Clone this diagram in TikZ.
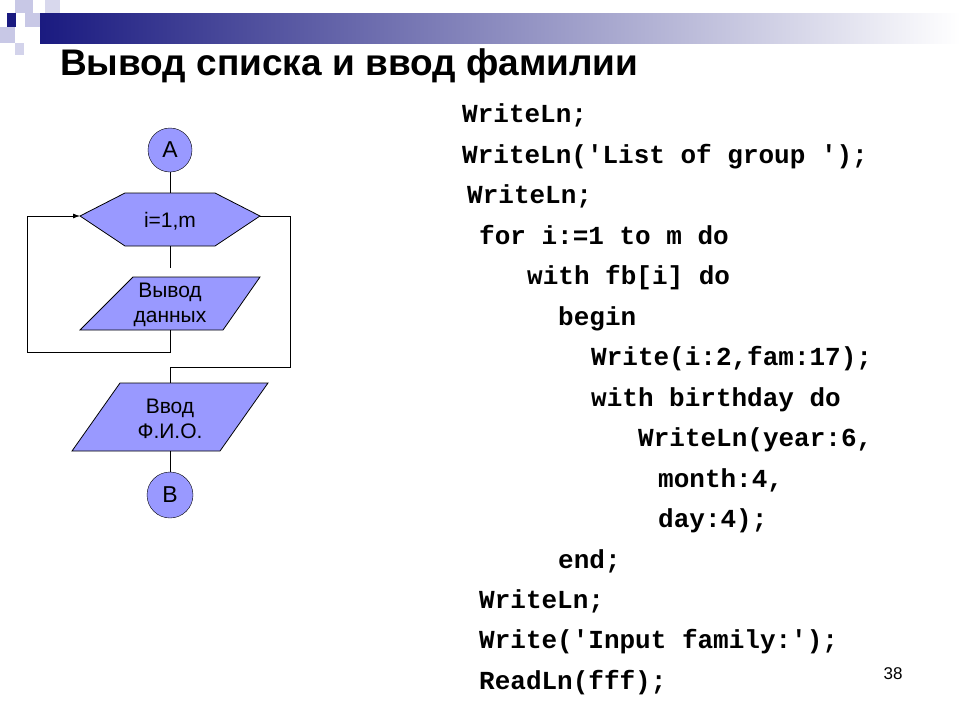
\documentclass[tikz,border=0pt]{standalone}
\usepackage{fontspec}
\setmainfont{Liberation Sans}
\newfontfamily\codefont{Liberation Mono}
\usetikzlibrary{arrows.meta}
\definecolor{shp}{HTML}{9999FF}
\definecolor{navy}{HTML}{1A1A80}
\definecolor{lav}{HTML}{C8C8E6}
\begin{document}
\begin{tikzpicture}[x=1pt,y=-1pt,
  ln/.style={draw=black,line width=0.8pt},
  code/.style={anchor=base west,inner sep=0,font=\codefont\bfseries\fontsize{26}{26}\selectfont},
  lbl/.style={font=\fontsize{21}{25}\selectfont,align=center}]
\useasboundingbox (0,0) rectangle (960,720);
\fill[white] (0,0) rectangle (960,720);
% header decoration
\shade[left color=navy,right color=white] (40,13) rectangle (960,43);
\fill[lav] (15,0) rectangle (33,13);
\fill[lav!70] (45,0) rectangle (60,13);
\fill[navy] (7,13) rectangle (16,27);
\fill[lav] (25,13) rectangle (40,27);
\fill[lav] (0,27) rectangle (15,43);
\fill[lav!80] (15,43) rectangle (24,55);
\node[anchor=base west,inner sep=0,font=\bfseries\fontsize{37}{37}\selectfont] (title) at (60,75) {Вывод списка и ввод фамилии};
% flowchart
\node[circle,draw,fill=shp,minimum size=44pt,inner sep=0,font=\fontsize{23}{23}\selectfont] (A) at (170,150) {A};
\path[ln,fill=shp] (80,216) -- (125,193) -- (215,193) -- (260,216) -- (215,246) -- (125,246) -- cycle;
\coordinate (hl) at (80,216); \coordinate (hr) at (260,216);
\node[lbl] (H) at (170,221) {i=1,m};
\path[ln,fill=shp] (133,277) -- (260,277) -- (223,330) -- (80,330) -- cycle;
\node[lbl] (P1) at (170,305) {Вывод\\данных};
\path[ln,fill=shp] (120,383) -- (268,383) -- (220,451) -- (72,451) -- cycle;
\node[lbl] (P2) at (170,419) {Ввод\\Ф.И.О.};
\node[circle,draw,fill=shp,minimum size=46pt,inner sep=0,font=\fontsize{23}{23}\selectfont] (B) at (170,495) {B};
\coordinate (h2) at (170,193);
\draw[ln] (A.south) -- (h2);
\coordinate (h3) at (170,246); \coordinate (h4) at (170,268);
\draw[ln] (h3) -- (h4);
\coordinate (p1b) at (170,330);
\draw[ln,-{Latex[length=7pt,width=5pt]}] (p1b) -- (170,352) -- (27,352) -- (27,216) -- (hl);
\coordinate (p2t) at (170,383);
\draw[ln] (hr) -- (290,216) -- (290,367) -- (170,367) -- (p2t);
\coordinate (p2b) at (170,451);
\draw[ln] (p2b) -- (B.north);
% code
\node[code] at (462,122) {WriteLn;};
\node[code] at (462,163) {WriteLn('List of group ');};
\node[code] at (467,203) {WriteLn;};
\node[code] at (479,244) {for i:=1 to m do};
\node[code] at (527,284) {with fb[i] do};
\node[code] at (558,325) {begin};
\node[code] at (591,365) {Write(i:2,fam:17);};
\node[code] at (591,406) {with birthday do};
\node[code] at (638,446) {WriteLn(year:6,};
\node[code] at (658,487) {month:4,};
\node[code] at (658,527) {day:4);};
\node[code] at (558,568) {end;};
\node[code] at (479,608) {WriteLn;};
\node[code] at (479,648) {Write('Input family:');};
\node[code] at (479,689) {ReadLn(fff);};
\node[anchor=base,inner sep=0,font=\fontsize{17}{17}\selectfont] (num) at (893,679) {38};
\end{tikzpicture}
\end{document}
